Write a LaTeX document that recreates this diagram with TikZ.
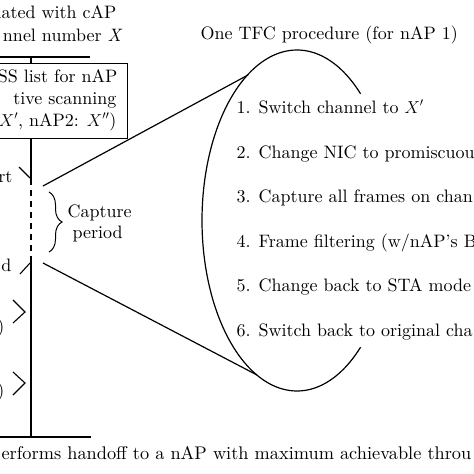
\documentclass[tikz,border=0pt]{standalone}
\usepackage{fontspec}
\setmainfont{lmroman10-regular}[Extension=.otf, ItalicFont=lmroman10-italic, BoldFont=lmroman10-bold]
\usetikzlibrary{decorations.pathreplacing}
\begin{document}
\begin{tikzpicture}[x=1pt,y=-1pt, line width=1.2pt, line cap=butt,
  txt/.style={inner sep=0pt, font=\fontsize{18}{22}\selectfont},
  lft/.style={txt, anchor=base east},
  rgt/.style={txt, anchor=base west},
  tick/.style={line width=1.1pt},
  capbrace/.style={line width=1pt, decorate, decoration={brace, amplitude=13pt, aspect=0.5}}]
\useasboundingbox (0,0) rectangle (474,474);
\clip (0,0) rectangle (474,474);

% top-left texts
\node[lft] (t1) at (117,18.5) {iated with cAP};
\node[lft] (t2) at (123,41) {nnel number \textit{X}};

% top bar and box
\coordinate (barL) at (-5,57);
\coordinate (barR) at (90,57);
\coordinate (barM) at (31,57);
\draw (barL) -- (barR);
\node[draw, anchor=north east, minimum width=150pt, minimum height=75pt, inner sep=0pt] (box) at (128,63) {};
\draw (barM) -- (barM |- box.north);
\node[lft] (b1) at (118,82.5) {SS list for nAP};
\node[lft] (b2) at (117,104.5) {tive scanning};
\node[lft] (b3) at (117,126) {: $X'$, nAP2: $X''$)};

% time line
\coordinate (s1) at (31,179);
\coordinate (s2) at (31,262);
\coordinate (bot) at (31,437);
\draw (box.south -| barM) -- (s1);
\draw[dash pattern=on 6pt off 5pt] (s1) -- (s2);
\draw (s2) -- (bot);
\coordinate (botL) at (-5,437);
\coordinate (botR) at (91,437);
\draw (botL) -- (botR);

% start / end labels
\node[lft] (lst) at (13,182) {rt};
\node[lft] (lend) at (12,271) {d};
\coordinate (ta) at (19,167);
\coordinate (tb) at (30,178);
\coordinate (tc) at (20,274);
\coordinate (td) at (30,263);
\draw[tick] (ta) -- (tb);
\draw[tick] (tc) -- (td);

% chevrons and cut labels
\coordinate (c1a) at (13,300); \coordinate (c1b) at (25,312); \coordinate (c1c) at (13,323);
\coordinate (c2a) at (13,372); \coordinate (c2b) at (25,383); \coordinate (c2c) at (13,395);
\draw[tick] (c1a) -- (c1b) -- (c1c);
\draw[tick] (c2a) -- (c2b) -- (c2c);
\node[lft] (p1) at (5,332) {)};
\node[lft] (p2) at (5,396) {)};

% capture period brace
\coordinate (brT) at (49,192);
\coordinate (brB) at (49,252);
\draw[capbrace] (brT) -- (brB);
\node[rgt] (cap1) at (67,217) {Capture};
\node[rgt] (cap2) at (72,238) {period};

% TFC procedure ellipse
\draw plot[domain=-48:-312, samples=150, smooth] ({297+95*cos(\x)},{220.5+170.5*sin(\x)});
\coordinate (eT) at (248,75);
\coordinate (eB) at (257,375);
\coordinate (lT) at (43,186);
\coordinate (lB) at (43,263);
\draw (lT) -- (eT);
\draw (lB) -- (eB);

\node[rgt] (title) at (200,39) {One TFC procedure (for nAP 1)};
\node[rgt] (i1) at (236,113) {1. Switch channel to $X'$};
\node[rgt] (i2) at (236,158) {2. Change NIC to promiscuou};
\node[rgt] (i3) at (236,202) {3. Capture all frames on chan};
\node[rgt] (i4) at (236,247) {4. Frame filtering (w/nAP's B};
\node[rgt] (i5) at (236,291.5) {5. Change back to STA mode};
\node[rgt] (i6) at (236,336.5) {6. Switch back to original cha};

% bottom text
\node[rgt, font=\fontsize{18.3}{22}\selectfont] (foot) at (1,459) {erforms handoff to a nAP with maximum achievable throu};
\end{tikzpicture}
\end{document}
